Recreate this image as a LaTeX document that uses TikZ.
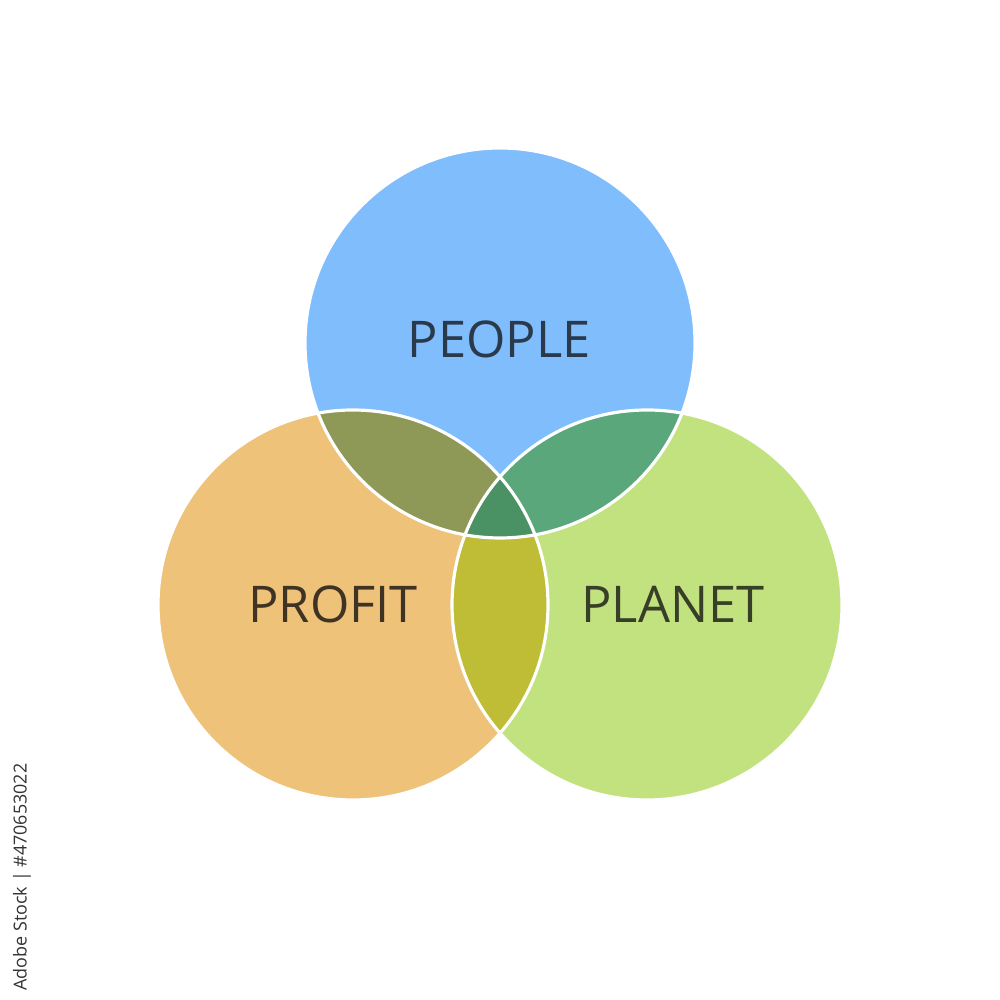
\documentclass[tikz,border=0pt]{standalone}
\usepackage{fontspec}
\setmainfont{Open Sans}
\definecolor{cblue}{HTML}{7FBDFD}
\definecolor{corange}{HTML}{EFC27A}
\definecolor{cgreen}{HTML}{C2E27F}
\definecolor{cbo}{HTML}{8F9957}
\definecolor{cbg}{HTML}{5AA77B}
\definecolor{cog}{HTML}{BFBC35}
\definecolor{call}{HTML}{4A9163}
\definecolor{tpeople}{HTML}{2B3A4B}
\definecolor{tprofit}{HTML}{3F3424}
\definecolor{tplanet}{HTML}{373F28}
\begin{document}
\begin{tikzpicture}[
  lbl/.style={font=\fontsize{14.4}{17}\selectfont, inner sep=0pt},
  rim/.style={draw=white, line width=0.9pt}
]
\useasboundingbox (0,0) rectangle (10,10);
\fill[white] (0,0) rectangle (10,10);
\def\R{1.95}
\coordinate (ct) at (5.00,6.57);
\coordinate (cl) at (3.53,3.95);
\coordinate (cr) at (6.47,3.95);
% base circles
\fill[cblue] (ct) circle (\R);
\fill[corange] (cl) circle (\R);
\fill[cgreen] (cr) circle (\R);
% pairwise overlaps
\begin{scope}
  \clip (ct) circle (\R);
  \fill[cbo] (cl) circle (\R);
  \fill[cbg] (cr) circle (\R);
\end{scope}
\begin{scope}
  \clip (cl) circle (\R);
  \fill[cog] (cr) circle (\R);
\end{scope}
% triple overlap
\begin{scope}
  \clip (ct) circle (\R);
  \clip (cl) circle (\R);
  \fill[call] (cr) circle (\R);
\end{scope}
% white rims
\draw[rim] (ct) circle (\R);
\draw[rim] (cl) circle (\R);
\draw[rim] (cr) circle (\R);
% labels
\node[lbl, text=tpeople] (people) at (4.99,6.61) {PEOPLE};
\node[lbl, text=tprofit] (profit) at (3.33,3.96) {PROFIT};
\node[lbl, text=tplanet] (planet) at (6.73,3.96) {PLANET};
\node[font=\fontsize{5.1}{6}\selectfont, text=black!80, rotate=90, inner sep=0pt] (stock) at (0.22,1.23) {Adobe Stock | \#470653022};
\end{tikzpicture}
\end{document}
